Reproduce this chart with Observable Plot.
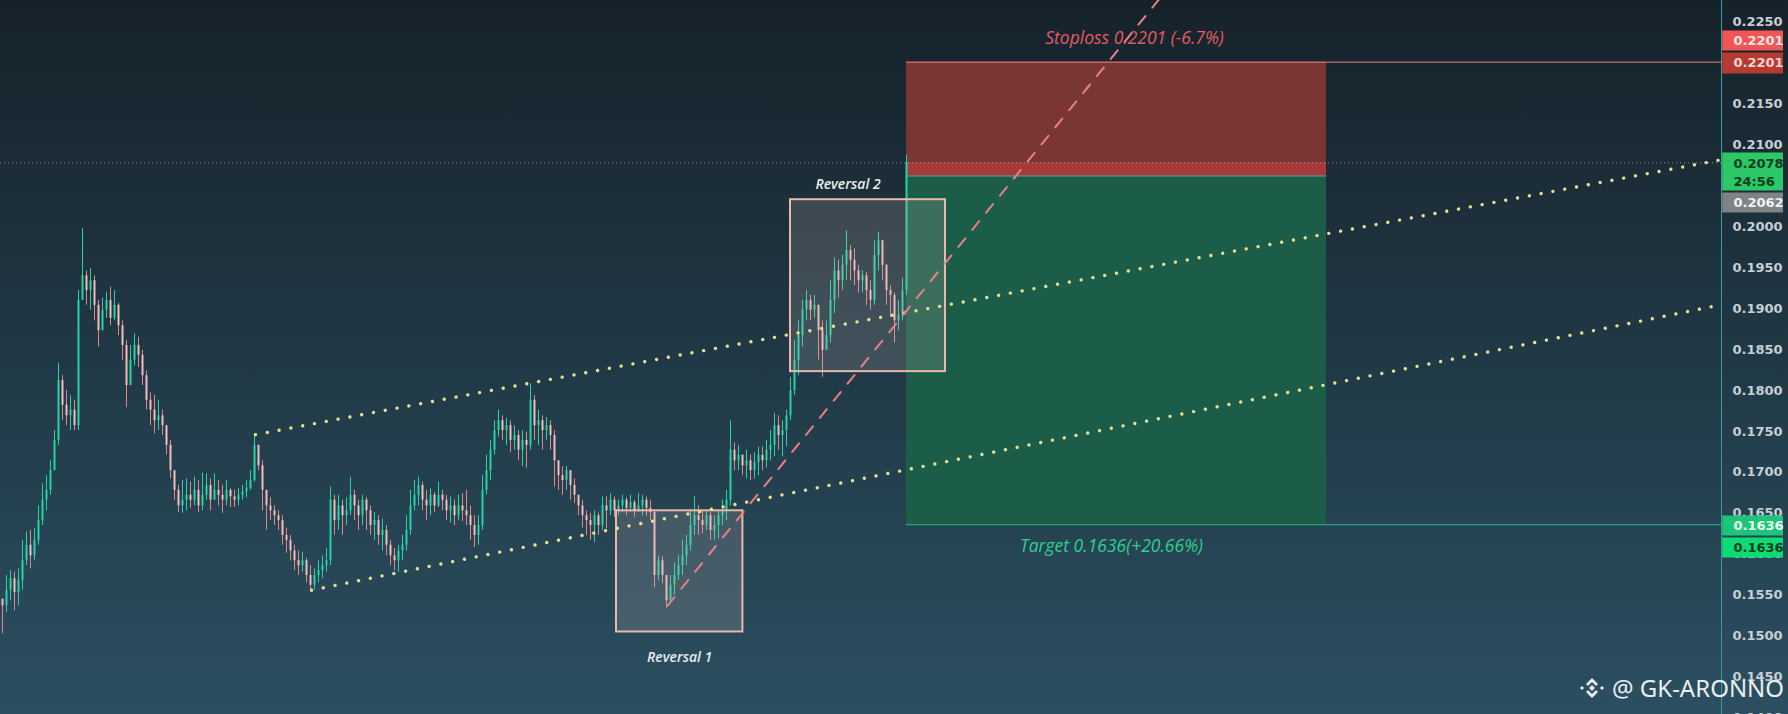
<!DOCTYPE html>
<html><head><meta charset="utf-8">
<script src="https://cdn.jsdelivr.net/npm/d3@7"></script>
<script src="https://cdn.jsdelivr.net/npm/@observablehq/plot@0.6"></script>
<style>
html,body{margin:0;padding:0;}
body{width:1788px;height:714px;overflow:hidden;background:linear-gradient(to bottom,#16222a 0%,#2b4f61 100%);}
#wrap{position:relative;width:1788px;height:714px;}
#wm{position:absolute;left:1577px;top:673px;height:30px;line-height:30px;white-space:nowrap;font-family:"Noto Sans",sans-serif;font-size:24px;color:#e9eef1;display:flex;align-items:center;}
#wm svg{margin-right:5px;}
</style></head>
<body><div id="wrap"><div id="chart"></div>
<div id="wm"><svg width="30" height="24" viewBox="0 0 30 24"><g fill="#e9eef1">
<polygon points="15,9 18,12 15,15 12,12"/><polygon points="5,10 7,12 5,14 3,12"/><polygon points="25,10 27,12 25,14 23,12"/>
<polygon points="15,2 21,8 19,10 15,6 11,10 9,8"/><polygon points="15,22 21,16 19,14 15,18 11,14 9,16"/></g></svg><span>@ GK-ARONNO</span></div>
</div>
<script>
// ---- candle data (one bar per period) ----
const firstOpen = 0.1545;
const closes = [
0.1537,0.1556,0.1570,0.1553,0.1568,0.1592,0.1611,0.1598,0.1617,0.1641,
0.1666,0.1678,0.1702,0.1739,0.1812,0.1782,0.1769,0.1776,0.1757,0.1910,
0.1940,0.1922,0.1934,0.1904,0.1873,0.1898,0.1910,0.1888,0.1904,0.1879,
0.1855,0.1806,0.1837,0.1855,0.1843,0.1818,0.1788,0.1776,0.1763,0.1769,
0.1757,0.1733,0.1702,0.1678,0.1659,0.1666,0.1672,0.1666,0.1678,0.1659,
0.1672,0.1684,0.1666,0.1678,0.1672,0.1666,0.1678,0.1670,0.1666,0.1672,
0.1676,0.1680,0.1690,0.1733,0.1708,0.1678,0.1659,0.1653,0.1647,0.1641,
0.1623,0.1617,0.1604,0.1592,0.1586,0.1592,0.1574,0.1562,0.1574,0.1580,
0.1586,0.1592,0.1666,0.1641,0.1659,0.1647,0.1653,0.1672,0.1659,0.1647,
0.1666,0.1653,0.1635,0.1641,0.1623,0.1629,0.1611,0.1598,0.1592,0.1604,
0.1611,0.1629,0.1659,0.1672,0.1684,0.1666,0.1659,0.1672,0.1659,0.1672,
0.1666,0.1653,0.1659,0.1647,0.1659,0.1653,0.1647,0.1635,0.1623,0.1635,
0.1678,0.1702,0.1727,0.1751,0.1763,0.1751,0.1757,0.1739,0.1745,0.1727,
0.1739,0.1733,0.1788,0.1757,0.1763,0.1751,0.1757,0.1745,0.1714,0.1696,
0.1690,0.1702,0.1684,0.1672,0.1659,0.1647,0.1641,0.1635,0.1647,0.1635,
0.1659,0.1653,0.1666,0.1653,0.1659,0.1666,0.1656,0.1663,0.1653,0.1659,
0.1666,0.1656,0.1651,0.1574,0.1592,0.1574,0.1543,0.1562,0.1574,0.1586,
0.1598,0.1611,0.1635,0.1647,0.1641,0.1635,0.1647,0.1629,0.1635,0.1647,
0.1653,0.1666,0.1727,0.1714,0.1721,0.1708,0.1714,0.1702,0.1712,0.1721,
0.1714,0.1727,0.1733,0.1757,0.1745,0.1751,0.1769,0.1800,0.1837,0.1867,
0.1898,0.1910,0.1898,0.1904,0.1873,0.1849,0.1867,0.1910,0.1946,0.1934,
0.1953,0.1971,0.1959,0.1946,0.1934,0.1940,0.1922,0.1910,0.1965,0.1983,
0.1953,0.1922,0.1916,0.1885,0.1892,0.1922,0.2078];
const highs = [
0.1543,0.1574,0.1580,0.1578,0.1582,0.1617,0.1627,0.1629,0.1631,0.1659,
0.1686,0.1696,0.1714,0.1751,0.1833,0.1818,0.1800,0.1794,0.1788,0.1922,
0.1998,0.1946,0.1949,0.1940,0.1910,0.1913,0.1920,0.1926,0.1922,0.1906,
0.1885,0.1861,0.1855,0.1869,0.1865,0.1849,0.1824,0.1797,0.1794,0.1788,
0.1776,0.1757,0.1739,0.1702,0.1684,0.1690,0.1692,0.1688,0.1694,0.1690,
0.1699,0.1698,0.1692,0.1698,0.1690,0.1684,0.1690,0.1680,0.1678,0.1680,
0.1684,0.1690,0.1702,0.1747,0.1733,0.1714,0.1678,0.1669,0.1659,0.1653,
0.1647,0.1632,0.1623,0.1611,0.1604,0.1602,0.1595,0.1586,0.1582,0.1592,
0.1598,0.1607,0.1682,0.1672,0.1672,0.1666,0.1669,0.1694,0.1678,0.1666,
0.1672,0.1669,0.1659,0.1651,0.1647,0.1643,0.1635,0.1617,0.1607,0.1611,
0.1623,0.1647,0.1678,0.1690,0.1694,0.1688,0.1678,0.1680,0.1675,0.1688,
0.1678,0.1672,0.1670,0.1666,0.1672,0.1674,0.1678,0.1659,0.1647,0.1647,
0.1696,0.1721,0.1739,0.1763,0.1776,0.1769,0.1766,0.1763,0.1757,0.1751,
0.1751,0.1749,0.1808,0.1794,0.1776,0.1769,0.1767,0.1763,0.1751,0.1714,
0.1707,0.1707,0.1702,0.1692,0.1670,0.1666,0.1653,0.1650,0.1653,0.1650,
0.1670,0.1670,0.1674,0.1670,0.1666,0.1672,0.1669,0.1672,0.1666,0.1674,
0.1672,0.1670,0.1666,0.1653,0.1598,0.1597,0.1568,0.1574,0.1589,0.1598,
0.1617,0.1623,0.1653,0.1670,0.1659,0.1653,0.1653,0.1651,0.1647,0.1653,
0.1666,0.1678,0.1763,0.1736,0.1733,0.1721,0.1727,0.1721,0.1724,0.1731,
0.1731,0.1739,0.1751,0.1772,0.1769,0.1763,0.1776,0.1816,0.1861,0.1885,
0.1910,0.1922,0.1916,0.1916,0.1898,0.1885,0.1885,0.1934,0.1962,0.1959,
0.1965,0.1995,0.1977,0.1973,0.1953,0.1946,0.1944,0.1934,0.1983,0.1993,
0.1977,0.1946,0.1928,0.1919,0.1910,0.1937,0.2087];
const lows = [
0.1503,0.1529,0.1543,0.1531,0.1537,0.1556,0.1586,0.1582,0.1592,0.1611,
0.1635,0.1653,0.1672,0.1702,0.1733,0.1763,0.1757,0.1751,0.1751,0.1751,
0.1910,0.1904,0.1898,0.1885,0.1853,0.1873,0.1888,0.1879,0.1885,0.1867,
0.1837,0.1779,0.1818,0.1830,0.1828,0.1806,0.1776,0.1757,0.1747,0.1751,
0.1745,0.1721,0.1692,0.1666,0.1651,0.1650,0.1653,0.1656,0.1659,0.1651,
0.1653,0.1666,0.1653,0.1669,0.1659,0.1650,0.1659,0.1657,0.1657,0.1659,
0.1666,0.1669,0.1678,0.1688,0.1702,0.1653,0.1629,0.1641,0.1635,0.1629,
0.1611,0.1601,0.1592,0.1580,0.1574,0.1578,0.1565,0.1556,0.1556,0.1565,
0.1570,0.1578,0.1586,0.1623,0.1629,0.1623,0.1635,0.1647,0.1641,0.1629,
0.1635,0.1629,0.1623,0.1617,0.1611,0.1604,0.1598,0.1586,0.1580,0.1578,
0.1592,0.1604,0.1623,0.1653,0.1659,0.1653,0.1641,0.1647,0.1651,0.1657,
0.1653,0.1641,0.1638,0.1635,0.1641,0.1640,0.1635,0.1617,0.1608,0.1611,
0.1629,0.1672,0.1690,0.1721,0.1743,0.1739,0.1733,0.1724,0.1727,0.1714,
0.1707,0.1705,0.1727,0.1739,0.1733,0.1727,0.1739,0.1727,0.1682,0.1678,
0.1672,0.1678,0.1666,0.1662,0.1647,0.1632,0.1623,0.1617,0.1614,0.1623,
0.1629,0.1631,0.1647,0.1645,0.1647,0.1651,0.1647,0.1651,0.1645,0.1651,
0.1647,0.1646,0.1641,0.1559,0.1568,0.1564,0.1534,0.1543,0.1550,0.1568,
0.1574,0.1586,0.1604,0.1623,0.1623,0.1625,0.1629,0.1617,0.1617,0.1619,
0.1635,0.1641,0.1659,0.1702,0.1702,0.1696,0.1692,0.1690,0.1692,0.1696,
0.1702,0.1705,0.1714,0.1719,0.1727,0.1719,0.1731,0.1763,0.1794,0.1818,
0.1853,0.1885,0.1885,0.1888,0.1837,0.1816,0.1849,0.1858,0.1894,0.1913,
0.1922,0.1934,0.1934,0.1928,0.1919,0.1919,0.1904,0.1898,0.1904,0.1946,
0.1934,0.1904,0.1889,0.1858,0.1873,0.1885,0.1916];

// ---- drawings ----
const yTicks = [0.1400,0.1450,0.1500,0.1550,0.1600,0.1650,0.1700,0.1750,0.1800,0.1850,0.1900,0.1950,0.2000,0.2050,0.2100,0.2150,0.2200,0.2250];
const trade = {start: 226, end: 331, entry: 0.2062, stop: 0.2201, target: 0.1636, current: 0.2078};
const tradeTexts = ["Stoploss 0.2201 (-6.7%)", "Target 0.1636(+20.66%)"];
const reversals = [
  {name: "Reversal 1", x1: 153.5, x2: 185.1, top: 0.1653, bottom: 0.1505},
  {name: "Reversal 2", x1: 197, x2: 235.75, top: 0.2033, bottom: 0.1823}
];
const upperChannel = [{i: 63.25, p: 0.1746}, {i: 430, p: 0.2082}];
const lowerChannel = [{i: 77.25, p: 0.1556}, {i: 428, p: 0.1903}];
const trendLine = [{i: 166.25, p: 0.1537}, {i: 292, p: 0.2295}];
const timer = "24:56";

const candles = closes.map((c, i) => {
  const o = i ? closes[i - 1] : firstOpen;
  return {i, open: o, close: c, high: Math.max(highs[i], o, c), low: Math.min(lows[i], o, c), up: c >= o};
});

const X0 = -0.5, X1 = 429.75, TAG1 = 430.05, TAG2 = 445.25, TAGX = 432.75;
const UP = "#27d3a4", DOWN_BODY = "#f3bcbc", DOWN_WICK = "#e38587";
const fmt = d3.format(".4f");
const tagFont = {fontSize: 13, fontWeight: "bold", fontFamily: "DejaVu Sans", textAnchor: "start"};
const noteFont = {fontStyle: "italic", fontFamily: "Open Sans"};

function tag(v, bg, fg, dy, h, textDy = dy) {
  return [
    Plot.ruleY([v], {x1: TAG1, x2: TAG2, stroke: bg, strokeWidth: h, dy}),
    Plot.text([v], {x: TAGX, y: d => d, text: d => fmt(d), fill: fg, dy: textDy, ...tagFont})
  ];
}

const dotted = {stroke: "#e7de8f", strokeWidth: 3.4, strokeDasharray: "0.01 11.99", strokeLinecap: "round", clip: true};

const chart = Plot.plot({
  width: 1788, height: 714,
  marginLeft: 0, marginRight: 67, marginTop: 0, marginBottom: 0,
  x: {domain: [X0, X1], axis: null},
  y: {domain: [0.14042, 0.22763], axis: null},
  style: {background: "transparent", overflow: "visible", fontFamily: "DejaVu Sans"},
  marks: [
    // trade box
    Plot.rect([trade], {x1: "start", x2: "end", y1: "entry", y2: "stop", fill: "#7a3634"}),
    Plot.rect([trade], {x1: "start", x2: "end", y1: "entry", y2: "current", fill: "#a6393a"}),
    Plot.rect([trade], {x1: "start", x2: "end", y1: "target", y2: "entry", fill: "#1b5d49"}),
    Plot.ruleY([trade], {y: "stop", x1: "start", x2: X1, stroke: "#e98585", strokeWidth: 1}),
    Plot.ruleY([trade], {y: "target", x1: "start", x2: X1, stroke: "#2bb884", strokeWidth: 1}),
    Plot.ruleY([trade], {y: "entry", x1: "start", x2: "end", stroke: "#8d9a9a", strokeWidth: 1}),
    // current price line
    Plot.ruleY([trade], {y: "current", x1: X0, x2: X1, stroke: "#c2cdd3", strokeOpacity: 0.65, strokeDasharray: "1 3"}),
    // candles
    Plot.ruleX(candles, {x: "i", y1: "low", y2: "high", stroke: d => d.up ? UP : DOWN_WICK, strokeWidth: 1}),
    Plot.ruleX(candles, {x: "i", y1: "open", y2: "close", stroke: d => d.up ? UP : DOWN_BODY, strokeWidth: 2}),
    // reversal boxes
    Plot.rect(reversals, {x1: "x1", x2: "x2", y1: "bottom", y2: "top", fill: "#c4b2b2", fillOpacity: 0.2, stroke: "#e8b8aa", strokeWidth: 2}),
    Plot.text(reversals.slice(0, 1), {x: d => (d.x1 + d.x2) / 2, y: "bottom", text: "name", dy: 26, fill: "#e6ecef", fontSize: 14, fontWeight: 600, ...noteFont}),
    Plot.text(reversals.slice(1), {x: d => (d.x1 + d.x2) / 2, y: "top", text: "name", dy: -15, dx: -20, fill: "#e6ecef", fontSize: 14, fontWeight: 600, ...noteFont}),
    // channel lines
    Plot.line(upperChannel, {x: "i", y: "p", ...dotted}),
    Plot.line(lowerChannel, {x: "i", y: "p", ...dotted}),
    Plot.line(trendLine, {x: "i", y: "p", stroke: "#ec7e86", strokeWidth: 2, strokeDasharray: "11 11", clip: true}),
    // trade texts
    Plot.text([trade], {x: d => (d.start + d.end) / 2, y: "stop", text: () => tradeTexts[0], dy: -24, dx: 18, fill: "#e35b60", fontSize: 17.5, ...noteFont}),
    Plot.text([trade], {x: d => (d.start + d.end) / 2, y: "target", text: () => tradeTexts[1], dy: 22, dx: -5, fill: "#2fd08c", fontSize: 17.5, fontWeight: 500, ...noteFont}),
    // axis
    Plot.ruleX([X1], {stroke: "#3a9d9d", strokeWidth: 1}),
    Plot.axisY(yTicks, {anchor: "right", tickSize: 0, tickPadding: 11, tickFormat: fmt, color: "#c7cfd5", fontSize: 13, fontWeight: "bold", fontFamily: "DejaVu Sans"}),
    // price tags
    ...tag(trade.stop, "#f05656", "#ffe6e6", -21.6, 20),
    ...tag(trade.stop, "#b53a31", "#f6d4d2", 0.9, 21),
    ...tag(trade.current, "#2cc868", "#0b3d20", 8.7, 38, 0.5),
    Plot.text([trade.current], {x: TAGX, y: d => d, text: () => timer, fill: "#0b3d20", dy: 18.5, ...tagFont}),
    ...tag(trade.entry, "#7e8385", "#f2f2f2", 26.6, 20),
    ...tag(trade.target, "#1fc47b", "#e6fff0", 0.8, 20),
    ...tag(trade.target, "#0ddc74", "#083d20", 22.8, 20)
  ]
});
document.getElementById("chart").appendChild(chart);
</script>
</body></html>
